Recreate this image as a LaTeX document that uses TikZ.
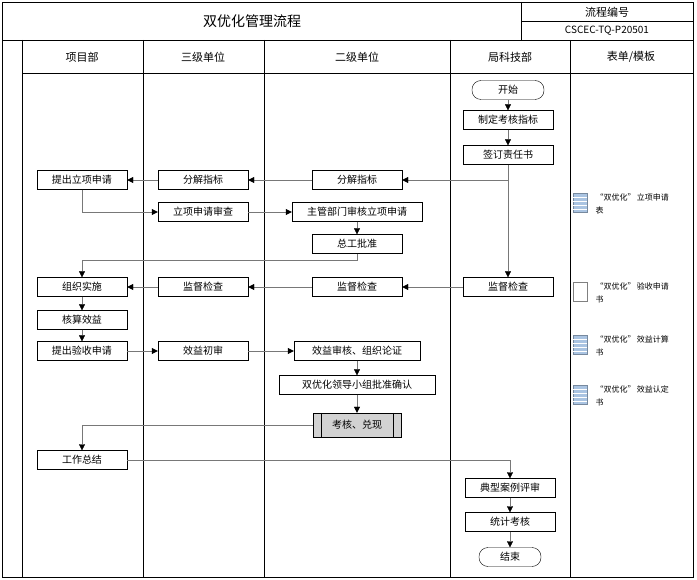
\documentclass[tikz,border=0pt]{standalone}
\usepackage{fontspec}
\newfontfamily\cjk{Noto Sans CJK SC}
\usetikzlibrary{arrows.meta}
\definecolor{iconblue}{RGB}{170,196,226}
\definecolor{linegray}{RGB}{120,120,120}

\begin{document}
\begin{tikzpicture}[x=1pt,y=-1pt,font=\cjk\fontsize{10}{11}\selectfont]
	\tikzstyle{stepbox}=[draw,fill=white,minimum height=19pt,inner sep=2pt,minimum width=90pt]
	\tikzstyle{terminal}=[stepbox,rounded corners=9pt,minimum width=72pt]
	\tikzstyle{subproc}=[stepbox,fill=gray!35,minimum width=88pt,minimum height=24pt]
	\tikzstyle{flow}=[draw=linegray,-{Triangle[length=6pt,width=6pt,color=black]}]
	\tikzstyle{annot}=[align=left,font=\cjk\fontsize{8}{13}\selectfont,anchor=north west]
	\tikzstyle{icon}=[draw=iconblue!70!black,fill=iconblue,minimum width=14pt,minimum height=19pt,inner sep=0pt]

	\useasboundingbox (0,0) rectangle (697,580);

	% Frame, title and lanes
	\draw (2,2) rectangle (693,577);
	\draw (2,40) -- (693,40) (22,73) -- (693,73);
	\draw (521,2) -- (521,40) (521,21) -- (693,21);
	\draw (22,40) -- (22,577);
	\foreach \x in {143,264,450,570}
	\draw (\x,40) -- (\x,577);
	\node (title) at (252,21) {\fontsize{14}{15}\selectfont 双优化管理流程};
	\node (codet) at (607,12) {\fontsize{11}{12}\selectfont 流程编号};
	\node (code) at (607,31) {\fontsize{10}{12}\selectfont CSCEC-TQ-P20501};
	\foreach \x/\t in {82/项目部,203/三级单位,357/二级单位,510/局科技部,631/{表单/模板}}
	\node at (\x,57) {\fontsize{11}{12}\selectfont \t};

	% Steps
	\node[terminal] (start) at (508,90) {开始};
	\node[stepbox] (zd) at (508,120) {制定考核指标};
	\node[stepbox] (qd) at (508,155) {签订责任书};
	\node[stepbox] (tc) at (82,180) {提出立项申请};
	\node[stepbox] (fj3) at (203,180) {分解指标};
	\node[stepbox] (fj2) at (357,180) {分解指标};
	\node[stepbox] (lx) at (203,212) {立项申请审查};
	\node[stepbox,minimum width=130pt] (zg) at (357,212) {主管部门审核立项申请};
	\node[stepbox] (zgpz) at (357,244) {总工批准};
	\node[stepbox] (zz) at (82,287) {组织实施};
	\node[stepbox] (jd3) at (203,287) {监督检查};
	\node[stepbox] (jd2) at (357,287) {监督检查};
	\node[stepbox] (jdj) at (508,287) {监督检查};
	\node[stepbox] (hs) at (82,320) {核算效益};
	\node[stepbox] (ys) at (82,351) {提出验收申请};
	\node[stepbox] (cs) at (203,351) {效益初审};
	\node[stepbox,minimum width=126pt] (sh) at (357,351) {效益审核、组织论证};
	\node[stepbox,minimum width=156pt] (qr) at (357,385) {双优化领导小组批准确认};
	\node[subproc] (dx) at (357,425) {考核、兑现};
	\draw (dx.north west) ++(8,0) -- ++(0,24) (dx.north east) ++(-8,0) -- ++(0,24);
	\node[stepbox] (zj) at (82,460) {工作总结};
	\node[stepbox] (dl) at (510,488) {典型案例评审};
	\node[stepbox] (tj) at (510,522) {统计考核};
	\node[terminal,minimum width=62pt] (end) at (510,557) {结束};

	% Connections
	\path[flow] (start) -- (zd);
	\path[flow] (zd) -- (qd);
	\path[flow] (qd) -- (jdj);
	\path[flow] (qd.south |- fj2) -- (fj2);
	\path[flow] (fj2) -- (fj3);
	\path[flow] (fj3) -- (tc);
	\path[flow] (tc) |- (lx);
	\path[flow] (lx) -- (zg);
	\path[flow] (zg) -- (zgpz);
	\path[flow] (zgpz.south) -- ++(0,7) -| (zz.north);
	\path[flow] (jdj) -- (jd2);
	\path[flow] (jd2) -- (jd3);
	\path[flow] (jd3) -- (zz);
	\path[flow] (zz) -- (hs);
	\path[flow] (hs) -- (ys);
	\path[flow] (ys) -- (cs);
	\path[flow] (cs) -- (sh);
	\path[flow] (sh) -- (qr);
	\path[flow] (qr) -- (dx);
	\path[flow] (dx) -| (zj);
	\path[flow] (zj) -| (dl);
	\path[flow] (dl) -- (tj);
	\path[flow] (tj) -- (end);

	% Forms
	\foreach \n/\y/\t/\u in {f1/203/立项申请/表,f2/292/验收申请/书,f3/345/效益计算/书,f4/395/效益认定/书}{
		\node[icon] (\n) at (580,\y) {};
		\node[annot] at (592,\y-13) {“双优化”\,\t\\\u};
	}
	\path[draw=gray,fill=white] (f2.north west) rectangle (f2.south east);
	\foreach \n in {f1,f3,f4}
	\foreach \k in {4,8,12,16}
	\draw[white,thin] ([yshift=-\k pt]\n.north west) -- ([yshift=-\k pt]\n.north east);
\end{tikzpicture}
\end{document}
